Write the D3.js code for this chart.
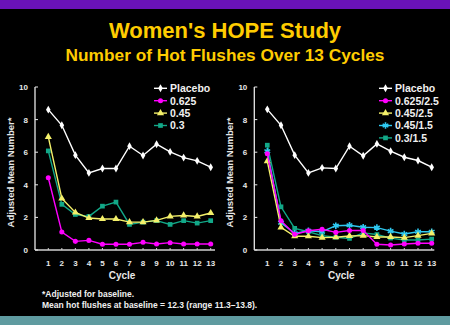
<!DOCTYPE html>
<html>
<head>
<meta charset="utf-8">
<script src="https://cdn.jsdelivr.net/npm/d3@7"></script>
<style>
  html, body { margin: 0; padding: 0; background: #000; }
  svg { display: block; }
  text { font-family: "Liberation Sans", Arial, sans-serif; font-weight: bold; }
</style>
</head>
<body>
<svg id="chart" width="450" height="325"></svg>
<script>
const cycles = [1, 2, 3, 4, 5, 6, 7, 8, 9, 10, 11, 12, 13];
const yTicks = [0, 2, 4, 6, 8, 10];

// Left panel: estrogen alone
const placeboLeft = [8.61, 7.65, 5.82, 4.73, 5.0, 5.0, 6.37, 5.8, 6.49, 6.02, 5.67, 5.47, 5.08];
const ce0625 = [4.43, 1.1, 0.53, 0.59, 0.35, 0.35, 0.35, 0.47, 0.37, 0.45, 0.37, 0.37, 0.37];
const ce045 = [6.94, 3.16, 2.3, 1.96, 1.9, 1.9, 1.71, 1.71, 1.82, 2.06, 2.12, 2.06, 2.27];
const ce03 = [6.08, 2.8, 2.18, 2.06, 2.69, 2.94, 1.57, 1.71, 1.8, 1.57, 1.8, 1.65, 1.8];

// Right panel: estrogen + MPA
const placeboRight = [8.63, 7.65, 5.82, 4.73, 5.04, 5.0, 6.37, 5.78, 6.51, 6.06, 5.69, 5.49, 5.08];
const ce0625mpa25 = [5.9, 1.8, 0.96, 1.18, 1.27, 1.08, 1.2, 1.2, 0.35, 0.31, 0.37, 0.41, 0.41];
const ce045mpa25 = [5.45, 1.39, 0.84, 0.84, 0.76, 0.78, 0.86, 0.88, 0.8, 0.8, 0.76, 0.88, 1.02];
const ce045mpa15 = [6.06, 1.67, 1.02, 1.18, 1.12, 1.49, 1.52, 1.4, 1.37, 1.16, 0.98, 1.12, 1.12];
const ce03mpa15 = [6.43, 2.65, 1.33, 1.12, 0.88, 0.78, 0.71, 1.05, 0.95, 0.73, 0.61, 0.61, 0.67];

const WHITE = '#ffffff', MAGENTA = '#ff00ff', YELLOW = '#f4f06a', CYAN = '#2ec8f0', TEAL = '#12a888';

const leftSeries = [
  { name: 'Placebo', values: placeboLeft, color: WHITE, shape: 'diamond' },
  { name: '0.625', values: ce0625, color: MAGENTA, shape: 'circle' },
  { name: '0.45', values: ce045, color: YELLOW, shape: 'triangle' },
  { name: '0.3', values: ce03, color: TEAL, shape: 'square' }
];
const rightSeries = [
  { name: 'Placebo', values: placeboRight, color: WHITE, shape: 'diamond' },
  { name: '0.625/2.5', values: ce0625mpa25, color: MAGENTA, shape: 'circle' },
  { name: '0.45/2.5', values: ce045mpa25, color: YELLOW, shape: 'triangle' },
  { name: '0.45/1.5', values: ce045mpa15, color: CYAN, shape: 'star' },
  { name: '0.3/1.5', values: ce03mpa15, color: TEAL, shape: 'square' }
];

const svg = d3.select('#chart');

// background bands
svg.append('rect').attr('x', 0).attr('y', 0).attr('width', 450).attr('height', 325).attr('fill', '#000');
svg.append('rect').attr('x', 0).attr('y', 0).attr('width', 450).attr('height', 9).attr('fill', '#6a12b8');
svg.append('rect').attr('x', 0).attr('y', 316).attr('width', 450).attr('height', 9).attr('fill', '#5f9ba0');

svg.append('text').attr('x', 225).attr('y', 38).attr('text-anchor', 'middle')
  .attr('fill', '#ffcc00').attr('font-size', 22).text("Women's HOPE Study");
svg.append('text').attr('x', 225).attr('y', 61).attr('text-anchor', 'middle')
  .attr('fill', '#ffcc00').attr('font-size', 17.3).text('Number of Hot Flushes Over 13 Cycles');

const symbolTypes = {
  diamond: { type: d3.symbolDiamond, size: 18 },
  circle: { type: d3.symbolCircle, size: 20 },
  triangle: { type: d3.symbolTriangle, size: 22 },
  square: { type: d3.symbolSquare, size: 22 },
  star: { type: d3.symbolAsterisk, size: 30 }
};

function marker(g, shape, color) {
  const s = symbolTypes[shape];
  const p = g.append('path').attr('d', d3.symbol(s.type, s.size)());
  if (shape === 'star') {
    p.attr('fill', 'none').attr('stroke', color).attr('stroke-width', 1.6);
  } else {
    p.attr('fill', color);
  }
  return p;
}

function drawPanel(series, axisX, xRange, legendX) {
  const x = d3.scaleLinear().domain([1, 13]).range(xRange);
  const y = d3.scaleLinear().domain([0, 10]).range([250, 87]);
  const g = svg.append('g');

  // axes
  g.append('line').attr('x1', axisX).attr('x2', axisX).attr('y1', y(0)).attr('y2', y(10))
    .attr('stroke', '#e8e8e8').attr('stroke-width', 1.3);
  g.append('line').attr('x1', axisX).attr('x2', axisX + 180).attr('y1', y(0)).attr('y2', y(0))
    .attr('stroke', '#d0d0d0').attr('stroke-width', 1.3);

  g.selectAll('.ytick').data(yTicks).join('line')
    .attr('x1', axisX).attr('x2', axisX + 3).attr('y1', d => y(d)).attr('y2', d => y(d))
    .attr('stroke', '#e8e8e8');
  g.selectAll('.ylab').data(yTicks).join('text')
    .attr('x', axisX - 7).attr('y', d => y(d) + 3).attr('text-anchor', 'end')
    .attr('fill', '#e8e8e8').attr('font-size', 8).text(d => d);

  g.selectAll('.xtick').data(cycles).join('line')
    .attr('x1', d => x(d)).attr('x2', d => x(d)).attr('y1', y(0)).attr('y2', y(0) - 2)
    .attr('stroke', '#d0d0d0');
  g.selectAll('.xlab').data(cycles).join('text')
    .attr('x', d => x(d)).attr('y', 266).attr('text-anchor', 'middle')
    .attr('fill', '#e8e8e8').attr('font-size', 8).text(d => d);

  g.append('text').attr('x', axisX + 87).attr('y', 279).attr('text-anchor', 'middle')
    .attr('fill', '#e8e8e8').attr('font-size', 10).text('Cycle');
  g.append('text')
    .attr('transform', `translate(${axisX - 21},${(y(0) + y(10)) / 2 + 4}) rotate(-90)`)
    .attr('text-anchor', 'middle').attr('fill', '#e8e8e8').attr('font-size', 9.5)
    .text('Adjusted Mean Number*');

  const line = d3.line().x((d, i) => x(cycles[i])).y(d => y(d));

  // draw placebo last so it sits on top
  const order = series.slice(1).reverse().concat([series[0]]);
  order.forEach(s => {
    g.append('path').attr('d', line(s.values)).attr('fill', 'none')
      .attr('stroke', s.color).attr('stroke-width', 1.4);
    s.values.forEach((v, i) => {
      marker(g, s.shape, s.color).attr('transform', `translate(${x(cycles[i])},${y(v)})`);
    });
  });

  // legend
  series.forEach((s, i) => {
    const ly = 88.3 + i * 12.4;
    g.append('line').attr('x1', legendX).attr('x2', legendX + 13).attr('y1', ly).attr('y2', ly)
      .attr('stroke', s.color).attr('stroke-width', 1.4);
    marker(g, s.shape, s.color).attr('transform', `translate(${legendX + 6.5},${ly})`);
    g.append('text').attr('x', legendX + 16).attr('y', ly + 3.8)
      .attr('fill', '#f0f0f0').attr('font-size', 10.5).text(s.name);
  });
}

drawPanel(leftSeries, 35, [48.3, 210.7], 154);
drawPanel(rightSeries, 254.3, [267.3, 431.7], 379);

svg.append('text').attr('x', 42).attr('y', 297).attr('fill', '#f0f0f0').attr('font-size', 8.5)
  .text('*Adjusted for baseline.');
svg.append('text').attr('x', 42).attr('y', 307.5).attr('fill', '#f0f0f0').attr('font-size', 8.5)
  .text('Mean hot flushes at baseline = 12.3 (range 11.3\u201313.8).');
</script>
</body>
</html>
